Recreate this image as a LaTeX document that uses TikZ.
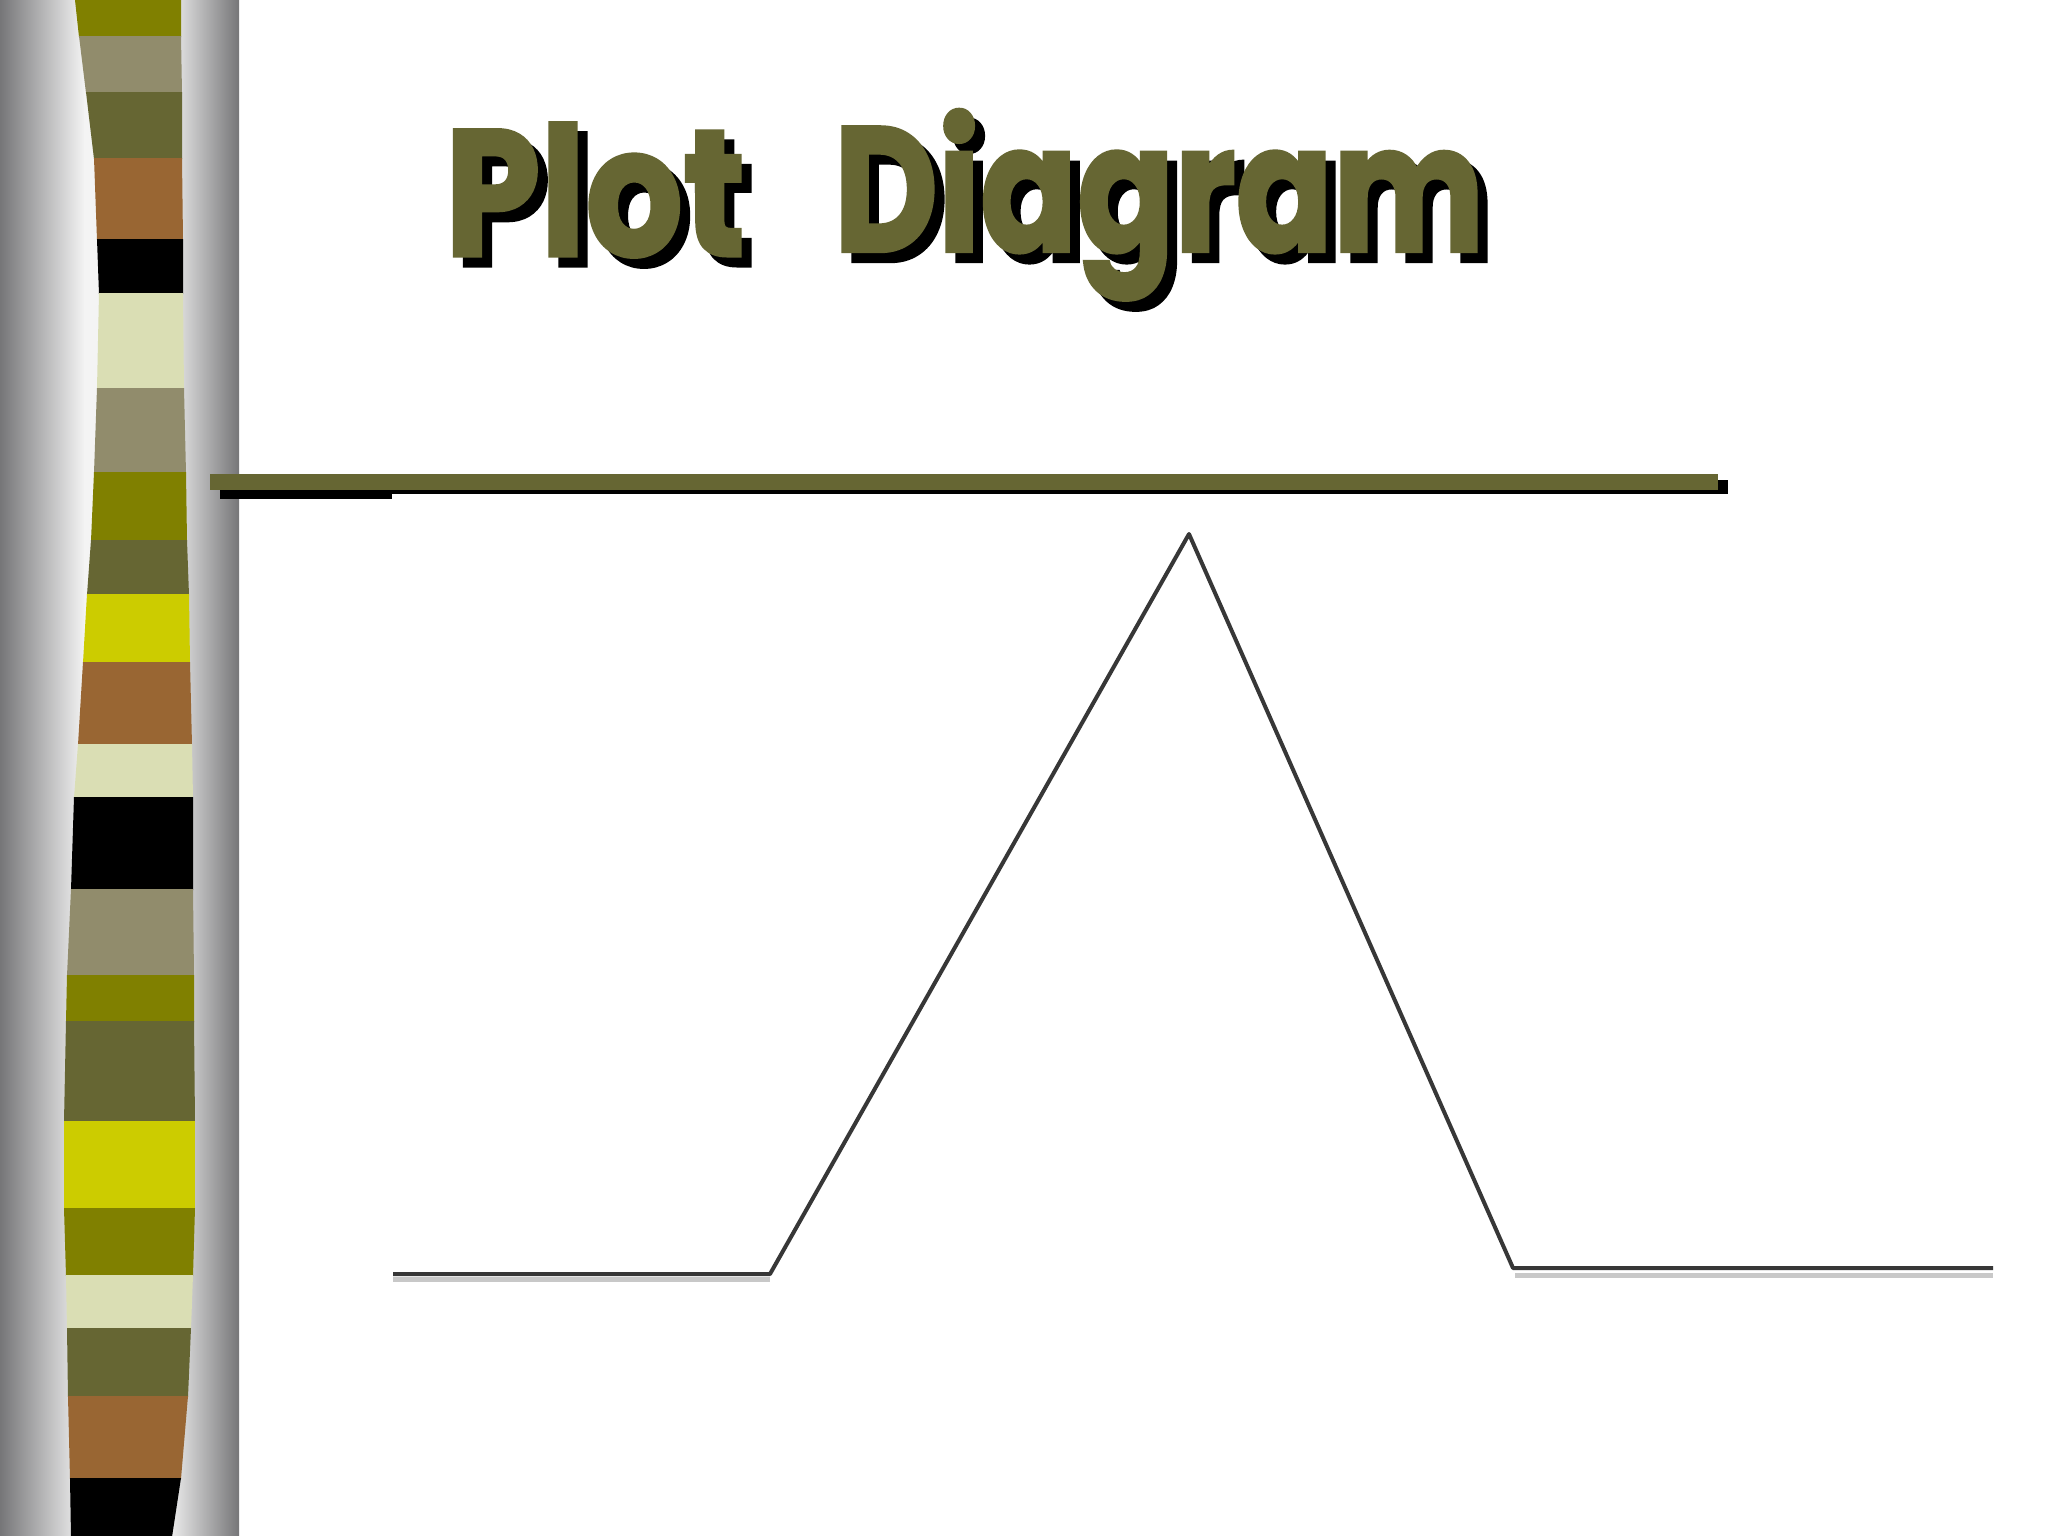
\documentclass[tikz,border=0pt]{standalone}
\usepackage{fontspec}
\usepackage{graphicx}
\newfontfamily\titlefont{Poppins}[BoldFeatures={FakeBold=2}]
\definecolor{cOlive}{RGB}{128,128,0}
\definecolor{cKhaki}{RGB}{145,140,108}
\definecolor{cDark}{RGB}{102,102,51}
\definecolor{cBrown}{RGB}{153,102,51}
\definecolor{cPale}{RGB}{218,222,180}
\definecolor{cYellow}{RGB}{204,204,0}
\definecolor{cBandDark}{RGB}{118,118,120}
\definecolor{cBandLight}{RGB}{244,244,244}
\definecolor{cPlot}{RGB}{55,55,55}
\definecolor{cPlotShadow}{RGB}{200,200,200}
\newcommand\mystripe[7]{\fill[#1] (#3,#2) -- (#4,#2) -- (#7,#5+1) -- (#6,#5+1) -- cycle;}
\newcommand\plotword{\titlefont\bfseries Plot}
\newcommand\diagword{\titlefont\bfseries\smash{Diagram}\vphantom{Dg}}
\tikzset{
  titletext/.style={anchor=north west, inner sep=0pt, outer sep=0pt, text=cDark},
  titleshadow/.style={anchor=north west, inner sep=0pt, outer sep=0pt, text=black},
  plotline/.style={draw=cPlot, line width=0.04cm, line join=round, line cap=butt},
  plotshadow/.style={draw=cPlotShadow, line width=0.05cm}
}
\begin{document}
\begin{tikzpicture}[x=0.01cm,y=-0.01cm]
\useasboundingbox (0,0) rectangle (2048,1536);
\fill[white] (0,0) rectangle (2048,1536);
% side bands
\shade[left color=cBandDark, right color=cBandLight] (0,0) rectangle (85,1536);
\fill[cBandLight] (84,0) rectangle (120,1536);
\shade[left color=cBandLight, right color=cBandDark] (166,0) rectangle (239,1536);
% stripes
\mystripe{cOlive}{0}{75}{181}{36}{79}{181}
\mystripe{cKhaki}{36}{79}{181}{92}{86}{182}
\mystripe{cDark}{92}{86}{182}{158}{94}{182}
\mystripe{cBrown}{158}{94}{182}{239}{97}{183}
\mystripe{black}{239}{97}{183}{293}{99}{183}
\mystripe{cPale}{293}{99}{183}{388}{97}{184}
\mystripe{cKhaki}{388}{97}{184}{472}{94}{186}
\mystripe{cOlive}{472}{94}{186}{540}{91}{187}
\mystripe{cDark}{540}{91}{187}{594}{87}{189}
\mystripe{cYellow}{594}{87}{189}{662}{83}{190}
\mystripe{cBrown}{662}{83}{190}{744}{78}{192}
\mystripe{cPale}{744}{78}{192}{797}{74}{193}
\mystripe{black}{797}{74}{193}{889}{71}{193}
\mystripe{cKhaki}{889}{71}{193}{975}{67}{194}
\mystripe{cOlive}{975}{67}{194}{1021}{66}{194}
\mystripe{cDark}{1021}{66}{194}{1121}{64}{195}
\mystripe{cYellow}{1121}{64}{195}{1208}{64}{195}
\mystripe{cOlive}{1208}{64}{195}{1275}{66}{193}
\mystripe{cPale}{1275}{66}{193}{1328}{67}{191}
\mystripe{cDark}{1328}{67}{191}{1396}{68}{188}
\mystripe{cBrown}{1396}{68}{188}{1478}{70}{181}
\mystripe{black}{1478}{70}{181}{1536}{71}{172}
% title
\node[titleshadow] (plotS) at (455,133) {\resizebox*{3.00cm}{1.34cm}{\plotword}};
\node[titleshadow] (diagS) at (844,137) {\resizebox*{6.50cm}{1.73cm}{\diagword}};
\node[titletext] (plot) at (445,123) {\resizebox*{3.00cm}{1.34cm}{\plotword}};
\node[titletext] (diag) at (834,127) {\resizebox*{6.50cm}{1.73cm}{\diagword}};
% rule under title
\coordinate (shL) at (220,480);
\coordinate (shR) at (1728,494);
\coordinate (exL) at (220,489);
\coordinate (exR) at (392,499);
\coordinate (barL) at (210,474);
\coordinate (barR) at (1718,490);
\fill[black] (shL) rectangle (shR);
\fill[black] (exL) rectangle (exR);
\fill[cDark] (barL) rectangle (barR);
% plot line
\coordinate (p1) at (393,1274);
\coordinate (p2) at (770,1274);
\coordinate (p3) at (1189,534);
\coordinate (p4) at (1513,1268);
\coordinate (p5) at (1993,1268);
\coordinate (s1) at (393,1279);
\coordinate (s2) at (770,1279);
\coordinate (s4) at (1515,1275);
\coordinate (s5) at (1993,1275);
\draw[plotshadow] (s1) -- (s2);
\draw[plotshadow] (s4) -- (s5);
\draw[plotline] (p1) -- (p2) -- (p3) -- (p4) -- (p5);
\end{tikzpicture}
\end{document}
